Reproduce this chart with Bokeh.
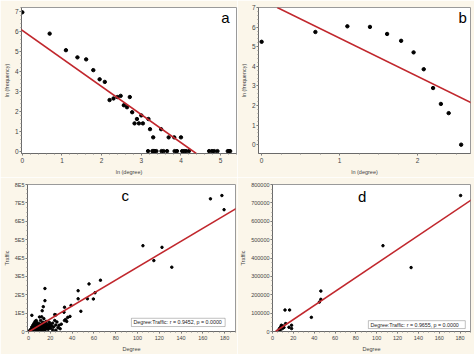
import numpy as np
from bokeh.plotting import figure
from bokeh.models import Slope, Label, BoxAnnotation, FixedTicker, Range1d
from bokeh.layouts import column, row
from bokeh.embed import file_html
from bokeh.resources import INLINE

# ---------------- data ----------------
# panel a: ln(degree) vs ln(frequency)
a_x = [0.0, 0.69, 1.10, 1.39, 1.61, 1.79, 1.95, 2.08, 2.20, 2.30, 2.40, 2.48, 2.56, 2.64,
       2.71, 2.77, 2.83, 2.89, 2.94, 3.00, 3.04, 3.18, 3.22, 3.30, 3.50, 3.69, 3.83, 4.00,
       3.17, 3.28, 3.31, 3.34, 3.38, 3.51, 3.56, 3.65, 3.84, 3.90, 4.03, 4.08, 4.13, 4.20,
       4.71, 4.78, 4.84, 4.92, 5.18, 5.21, 5.24]
a_y = [6.96, 5.89, 5.06, 4.70, 4.60, 4.06, 3.60, 3.47, 2.56, 2.64, 2.71, 2.77, 2.30, 2.20,
       2.71, 1.95, 1.39, 1.61, 1.39, 1.79, 1.39, 1.61, 1.10, 0.69, 1.10, 0.69, 0.69, 0.69,
       0, 0, 0, 0, 0, 0, 0, 0, 0, 0, 0, 0, 0, 0,
       0, 0, 0, 0, 0, 0, 0]
a_slope, a_icept = -1.407, 6.05

# panel b
b_x = [0.0, 0.69, 1.10, 1.39, 1.61, 1.79, 1.95, 2.08, 2.20, 2.30, 2.40, 2.56]
b_y = [5.25, 5.75, 6.04, 6.01, 5.65, 5.30, 4.71, 3.85, 2.89, 2.08, 1.61, 0.0]
b_slope, b_icept = -1.95, 7.39

# panel c: Degree vs Traffic (all nodes)
c_deg = [167, 177.5, 179.5, 105, 122.5, 115, 131.5, 66, 55.5, 61, 59.5, 54, 45.5, 45.5,
         15, 15, 13.5, 12.5, 48, 39, 33, 32.5, 36, 38, 24, 25, 3, 10, 26, 28, 25,
         1, 1, 2, 2, 2, 3, 3, 3, 3, 4, 4, 4, 4, 5, 5, 5, 5, 5, 6, 6, 6, 6, 6,
         7, 7, 7, 7, 7, 8, 8, 8, 8, 9, 9, 9, 9, 10, 10, 10, 10, 11, 11, 11, 11,
         12, 12, 12, 12, 13, 13, 13, 14, 14, 14, 15, 15, 15, 16, 16, 16, 17, 17,
         18, 18, 19, 19, 20, 20, 21, 22, 22, 23, 24, 25, 27, 29, 30, 33, 34, 35]
c_traf = [722000, 740000, 663000, 467000, 458000, 386000, 350000, 279000, 259000, 211000,
          177000, 178000, 222000, 178000, 234000, 168000, 135000, 113000, 110000, 142000,
          132000, 105000, 77000, 82000, 92000, 90000, 88000, 79000, 52000, 34000, 7000,
          2000, 5000, 3000, 8000, 12000, 4000, 10000, 18000, 25000, 6000, 14000, 22000, 35000,
          3000, 9000, 16000, 28000, 45000, 5000, 12000, 20000, 30000, 55000,
          8000, 15000, 25000, 40000, 60000, 6000, 18000, 30000, 48000, 10000, 22000, 35000, 12000,
          5000, 15000, 28000, 42000, 8000, 20000, 33000, 60000,
          12000, 25000, 40000, 80000, 10000, 30000, 50000, 18000, 35000, 70000, 8000, 25000, 45000,
          15000, 30000, 55000, 20000, 40000, 12000, 35000, 25000, 50000, 18000, 40000, 30000,
          10000, 45000, 25000, 60000, 35000, 20000, 15000, 40000, 60000, 65000, 55000]
c_slope, c_icept = 3520, -2000

# panel d: Degree vs Traffic (subset)
d_deg = [180.5, 106, 133, 46.4, 46.4, 45, 37.3, 12, 16.4, 18.3, 18.3, 15.8, 8.5, 9.5,
         7.3, 11, 10.1, 12.6, 6.6, 5.7, 7.9, 4.7]
d_traf = [740000, 467000, 348000, 220000, 175000, 160000, 77000, 117000, 117000, 34000,
          16000, 23000, 34000, 16000, 7000, 22000, 30000, 43000, 16000, 4000, 25000, 2000]
d_slope, d_icept = 3814, -11400

c_ticks = [0, 100000, 200000, 300000, 400000, 500000, 600000, 700000, 800000]
c_tick_labels = ["0", "1E5", "2E5", "3E5", "4E5", "5E5", "6E5", "7E5", "8E5"]
deg_ticks = [0, 20, 40, 60, 80, 100, 120, 140, 160, 180]

c_legend = "Degree:Traffic:   r = 0.9452, p = 0.0000"
d_legend = "Degree:Traffic:   r = 0.9655, p = 0.0000"

BG = "#FBF6EA"
RED = "#C1272D"
FONT = "Liberation Sans"


def make_fig(xr, yr, left, right, top, bottom, xlabel, ylabel, tick_fs="6.5px"):
    p = figure(width=237, height=177, output_backend="svg", toolbar_location=None,
               x_range=Range1d(*xr), y_range=Range1d(*yr),
               min_border_left=left, min_border_right=right,
               min_border_top=top, min_border_bottom=bottom)
    p.border_fill_color = BG
    p.background_fill_color = "white"
    p.outline_line_color = "#9a9a9a"
    p.grid.visible = False
    for ax in (p.xaxis[0], p.yaxis[0]):
        ax.axis_line_color = "#6a6a6a"
        ax.major_tick_line_color = "#6a6a6a"
        ax.minor_tick_line_color = "#8a8a8a"
        ax.major_tick_out = 2
        ax.major_tick_in = 0
        ax.minor_tick_out = 1
        ax.minor_tick_in = 0
        ax.major_label_text_font = FONT
        ax.major_label_text_font_size = tick_fs
        ax.major_label_text_color = "#444444"
        ax.axis_label_text_font = FONT
        ax.axis_label_text_font_size = "5.5px"
        ax.axis_label_text_font_style = "normal"
        ax.axis_label_text_color = "#444444"
        ax.major_label_standoff = 2
        ax.axis_label_standoff = 3
    p.yaxis.major_label_standoff = 1
    p.yaxis.axis_label_standoff = 2
    p.xaxis.axis_label = xlabel
    p.yaxis.axis_label = ylabel
    return p


# panel a
pa = make_fig((-0.02, 5.4), (-0.12, 7.2), 19, 1, 7, 22, "ln (degree)", "ln (frequency)")
pa.xaxis.ticker = FixedTicker(ticks=list(range(0, 6)), minor_ticks=list(np.arange(0, 5.41, 0.2)))
pa.yaxis.ticker = FixedTicker(ticks=list(range(0, 8)), minor_ticks=list(np.arange(0, 7.21, 0.2)))
pa.add_layout(Slope(gradient=a_slope, y_intercept=a_icept, line_color=RED, line_width=1.6))
pa.scatter(a_x, a_y, size=3.4, color="black")
pa.add_layout(Label(x=5.12, y=6.68, text="a", text_font=FONT, text_font_size="15px",
                    text_align="center", text_baseline="middle", text_color="black"))

# panel b
pb = make_fig((-0.04, 2.68), (-0.45, 7.0), 19, 4, 7, 22, "ln (degree)", "ln (frequency)")
pb.xaxis.ticker = FixedTicker(ticks=[0, 1, 2], minor_ticks=list(np.arange(0, 2.68, 0.25)))
pb.yaxis.ticker = FixedTicker(ticks=list(range(0, 8)), minor_ticks=list(np.arange(0, 7.01, 0.2)))
pb.add_layout(Slope(gradient=b_slope, y_intercept=b_icept, line_color=RED, line_width=1.6))
pb.scatter(b_x, b_y, size=3.4, color="black")
pb.add_layout(Label(x=2.58, y=6.5, text="b", text_font=FONT, text_font_size="15px",
                    text_align="center", text_baseline="middle", text_color="black"))

# panel c
pc = make_fig((-1, 190), (0, 800000), 23, 2, 7, 22, "Degree", "Traffic", tick_fs="5.5px")
pc.xaxis.ticker = FixedTicker(ticks=deg_ticks, minor_ticks=list(range(0, 191, 5)))
pc.yaxis.ticker = FixedTicker(ticks=c_ticks, minor_ticks=list(range(0, 800001, 25000)))
pc.yaxis.major_label_overrides = {t: l for t, l in zip(c_ticks, c_tick_labels)}
pc.add_layout(Slope(gradient=c_slope, y_intercept=c_icept, line_color=RED, line_width=1.6))
pc.scatter(c_deg, c_traf, size=2.5, color="black")
pc.add_layout(Label(x=88.8, y=740000, text="c", text_font=FONT, text_font_size="15px",
                    text_align="center", text_baseline="middle", text_color="black"))
pc.add_layout(BoxAnnotation(left=94.4, right=180.5, bottom=27000, top=72000,
                            fill_color="white", fill_alpha=1, line_color="#333333", line_width=1))
pc.add_layout(Label(x=96.3, y=49500, text=c_legend, text_font=FONT, text_font_size="5.3px",
                    text_baseline="middle", text_color="#222222"))

# panel d
pd_ = make_fig((0, 190), (0, 800000), 31, 4, 6, 22, "Degree", "Traffic", tick_fs="5.5px")
pd_.xaxis.ticker = FixedTicker(ticks=deg_ticks, minor_ticks=list(range(0, 191, 5)))
pd_.yaxis.ticker = FixedTicker(ticks=c_ticks, minor_ticks=list(range(0, 800001, 25000)))
pd_.yaxis.formatter.use_scientific = False
pd_.add_layout(Slope(gradient=d_slope, y_intercept=d_icept, line_color=RED, line_width=1.6))
pd_.scatter(d_deg, d_traf, size=2.5, color="black")
pd_.add_layout(Label(x=86, y=736000, text="d", text_font=FONT, text_font_size="15px",
                     text_align="center", text_baseline="middle", text_color="black"))
pd_.add_layout(BoxAnnotation(left=92, right=185, bottom=16000, top=59000,
                             fill_color="white", fill_alpha=1, line_color="#333333", line_width=1))
pd_.add_layout(Label(x=94, y=37500, text=d_legend, text_font=FONT, text_font_size="5.3px",
                     text_baseline="middle", text_color="#222222"))

layout = column(row(pa, pb), row(pc, pd_))
open("out.html", "w").write(file_html(layout, INLINE))
